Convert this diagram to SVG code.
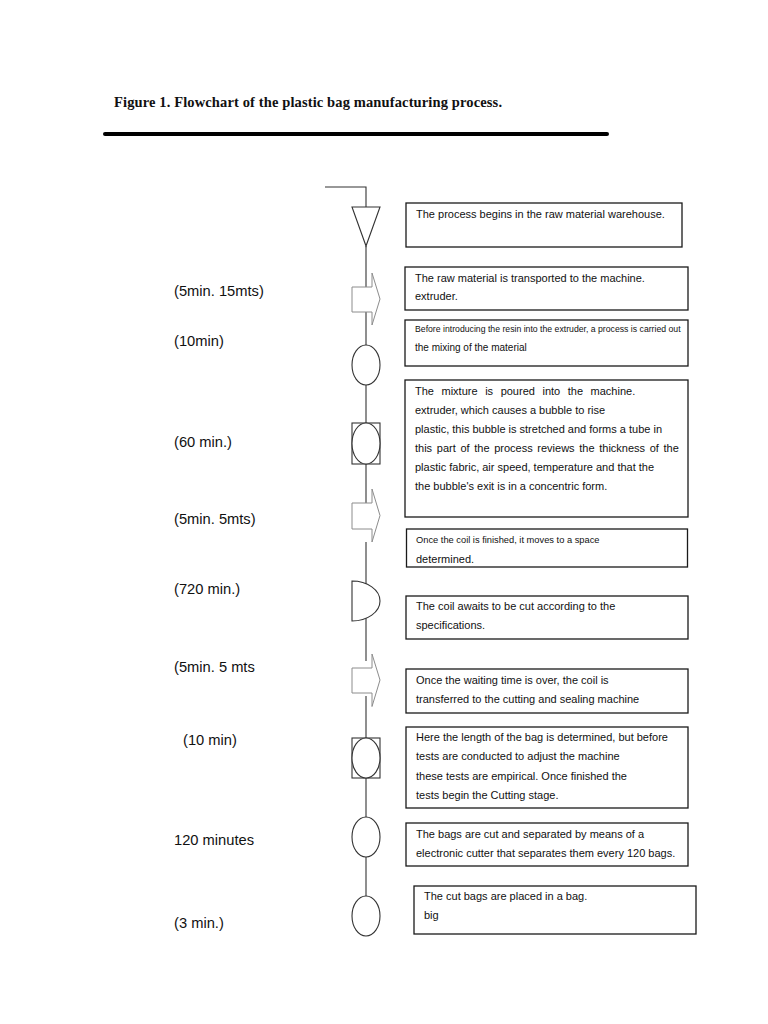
<svg xmlns="http://www.w3.org/2000/svg" width="768" height="1024" viewBox="0 0 768 1024">
<style>
  .spine { stroke:#333; stroke-width:1.1; fill:none; }
  .sym { stroke:#333; stroke-width:1.1; fill:#fff; }
  .arrow { stroke:#8c8c8c; stroke-width:1; fill:#fff; }
  .box { stroke:#1a1a1a; stroke-width:1.3; fill:#fff; }
  .t { font-family:"Liberation Sans", Arial, sans-serif; font-size:11px; fill:#111; }
  .ts { font-family:"Liberation Sans", Arial, sans-serif; font-size:8.7px; fill:#111; }
  .lbl { font-family:"Liberation Sans", Arial, sans-serif; font-size:14.7px; fill:#111; }
  .title { font-family:"Liberation Serif", "Times New Roman", serif; font-size:14.5px; font-weight:bold; fill:#111; }
</style>
<rect width="768" height="1024" fill="#fff"/>

<g id="title">
  <text class="title" x="114" y="107" textLength="388" lengthAdjust="spacing">Figure 1. Flowchart of the plastic bag manufacturing process.</text>
  <line x1="105" y1="134" x2="607" y2="134" stroke="#000" stroke-width="4" stroke-linecap="round"/>
</g>

<g id="connectors">
  <polyline class="spine" points="325,187 366,187 366,207"/>
  <line class="spine" x1="366" y1="246" x2="366" y2="287"/>
  <line class="spine" x1="366" y1="312" x2="366" y2="345"/>
  <line class="spine" x1="366" y1="385" x2="366" y2="423"/>
  <line class="spine" x1="366" y1="464" x2="366" y2="503"/>
  <line class="spine" x1="366" y1="542" x2="366" y2="584"/>
  <line class="spine" x1="366" y1="618" x2="366" y2="661"/>
  <line class="spine" x1="366" y1="696" x2="366" y2="738"/>
  <line class="spine" x1="366" y1="778" x2="366" y2="817"/>
  <line class="spine" x1="366" y1="857" x2="366" y2="896"/>
</g>

<g id="step1">
  <polygon class="sym" points="352,207 380,207 366,246"/>
  <rect class="box" x="406" y="203" width="276" height="44"/>
  <text class="t" x="416" y="218">The process begins in the raw material warehouse.</text>
</g>

<g id="step2">
  <path class="arrow" d="M352,287 H372 V273 L380,299 L372,325 V312 H352 Z"/>
  <text class="lbl" x="174" y="296">(5min. 15mts)</text>
  <rect class="box" x="405" y="267" width="283" height="43"/>
  <text class="t" x="415" y="282">The raw material is transported to the machine.</text>
  <text class="t" x="415" y="300">extruder.</text>
</g>

<g id="step3">
  <ellipse class="sym" cx="366" cy="365" rx="14" ry="20"/>
  <text class="lbl" x="174" y="346">(10min)</text>
  <rect class="box" x="405" y="320" width="283" height="46"/>
  <text class="ts" x="415" y="332">Before introducing the resin into the extruder, a process is carried out</text>
  <text class="t" x="415" y="351" style="font-size:10px">the mixing of the material</text>
</g>

<g id="step4">
  <rect class="sym" x="352" y="423" width="28" height="41"/>
  <ellipse class="sym" cx="366" cy="443.5" rx="14" ry="20.5"/>
  <text class="lbl" x="174" y="447">(60 min.)</text>
  <rect class="box" x="405" y="380" width="283" height="137"/>
  <text class="t" x="415" y="395" word-spacing="4.5">The mixture is poured into the machine.</text>
  <text class="t" x="415" y="413.5">extruder, which causes a bubble to rise</text>
  <text class="t" x="415" y="432.5">plastic, this bubble is stretched and forms a tube in</text>
  <text class="t" x="415" y="451.5" word-spacing="1.6">this part of the process reviews the thickness of the</text>
  <text class="t" x="415" y="470.5">plastic fabric, air speed, temperature and that the</text>
  <text class="t" x="415" y="489.5">the bubble's exit is in a concentric form.</text>
</g>

<g id="step5">
  <path class="arrow" d="M352,503 H372 V489 L380,515.5 L372,542 V529 H352 Z"/>
  <text class="lbl" x="174" y="524">(5min. 5mts)</text>
  <rect class="box" x="406.5" y="529" width="281" height="38"/>
  <text class="t" x="416" y="542.5" style="font-size:9.3px">Once the coil is finished, it moves to a space</text>
  <text class="t" x="416" y="562.5">determined.</text>
</g>

<g id="step6">
  <path class="sym" d="M352,581 A28,20 0 0 1 352,621 Z"/>
  <text class="lbl" x="174" y="594">(720 min.)</text>
  <rect class="box" x="406" y="596" width="282" height="43"/>
  <text class="t" x="416" y="610">The coil awaits to be cut according to the</text>
  <text class="t" x="416" y="629">specifications.</text>
</g>

<g id="step7">
  <path class="arrow" d="M352,668 H372 V654 L380,680 L372,706.5 V693 H352 Z"/>
  <text class="lbl" x="174" y="672">(5min. 5 mts</text>
  <rect class="box" x="406" y="669" width="282" height="44"/>
  <text class="t" x="416" y="684">Once the waiting time is over, the coil is</text>
  <text class="t" x="416" y="703">transferred to the cutting and sealing machine</text>
</g>

<g id="step8">
  <rect class="sym" x="352" y="738" width="28" height="40"/>
  <ellipse class="sym" cx="366" cy="758" rx="14" ry="20"/>
  <text class="lbl" x="183" y="745">(10 min)</text>
  <rect class="box" x="406" y="727" width="282" height="81"/>
  <text class="t" x="416" y="741">Here the length of the bag is determined, but before</text>
  <text class="t" x="416" y="759.5">tests are conducted to adjust the machine</text>
  <text class="t" x="416" y="779.5">these tests are empirical. Once finished the</text>
  <text class="t" x="416" y="798.5">tests begin the Cutting stage.</text>
</g>

<g id="step9">
  <ellipse class="sym" cx="366" cy="837" rx="14" ry="20"/>
  <text class="lbl" x="174" y="845">120 minutes</text>
  <rect class="box" x="406" y="823" width="282" height="43"/>
  <text class="t" x="416" y="837.5">The bags are cut and separated by means of a</text>
  <text class="t" x="416" y="857">electronic cutter that separates them every 120 bags.</text>
</g>

<g id="step10">
  <ellipse class="sym" cx="366" cy="916" rx="14" ry="20"/>
  <text class="lbl" x="174" y="928">(3 min.)</text>
  <rect class="box" x="414" y="886" width="282" height="48"/>
  <text class="t" x="424" y="900">The cut bags are placed in a bag.</text>
  <text class="t" x="424" y="918.5">big</text>
</g>
</svg>
